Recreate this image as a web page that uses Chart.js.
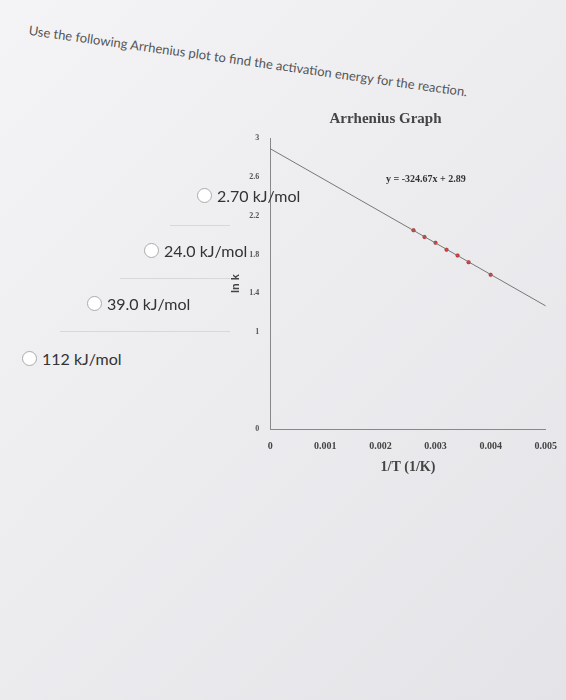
<!DOCTYPE html>
<html><head><meta charset="utf-8">
<script src="https://cdn.jsdelivr.net/npm/chart.js@4"></script>
<style>
body{margin:0;width:566px;height:700px;background:linear-gradient(135deg,#f4f4f6,#e4e4e8);font-family:Lato,"Open Sans",sans-serif;position:relative;overflow:hidden}
#q{position:absolute;left:30px;top:22px;font-size:13px;color:#555;transform:rotate(8deg);transform-origin:left top;white-space:nowrap}
#wrap{position:absolute;left:225px;top:100px;width:335px;height:380px}
.opt{position:absolute;font-size:16px;color:#333;white-space:nowrap}
.opt:before{content:"";display:inline-block;width:13px;height:13px;border:1px solid #aaa;border-radius:50%;margin-right:5px;vertical-align:-1px;background:#fff}
.sep{position:absolute;height:1px;background:#d8d8dc}
</style></head><body>
<div id="q">Use the following Arrhenius plot to find the activation energy for the reaction.</div>
<div id="wrap"><canvas id="c"></canvas></div>
<div class="opt" style="left:197px;top:186px">2.70 kJ/mol</div>
<div class="sep" style="left:170px;top:225px;width:60px"></div>
<div class="opt" style="left:144px;top:241px">24.0 kJ/mol</div>
<div class="sep" style="left:120px;top:278px;width:110px"></div>
<div class="opt" style="left:87px;top:294px">39.0 kJ/mol</div>
<div class="sep" style="left:60px;top:331px;width:170px"></div>
<div class="opt" style="left:22px;top:349px">112 kJ/mol</div>
<script>
const xTicks=[0,0.001,0.002,0.003,0.004,0.005];
const yTicks=[0,1,1.4,1.8,2.2,2.6,3];
const slope=-324.67, intercept=2.89;
const lineX=[0,0.005];
const lineY=[2.89,1.27];
const ptX=[0.0026,0.0028,0.003,0.0032,0.0034,0.0036,0.004];
const ptY=[2.05,1.98,1.92,1.85,1.79,1.72,1.59];
new Chart(document.getElementById('c'),{
 type:'scatter',
 data:{datasets:[
  {type:'line',data:lineX.map((x,i)=>({x,y:lineY[i]})),borderColor:'#777',borderWidth:1,pointRadius:0},
  {data:ptX.map((x,i)=>({x,y:ptY[i]})),backgroundColor:'#d33',pointRadius:2}
 ]},
 options:{responsive:true,maintainAspectRatio:false,animation:false,
  layout:{padding:{left:0,right:14,top:0,bottom:0}},
  plugins:{legend:{display:false},
   title:{display:true,text:'Arrhenius Graph',font:{family:'Liberation Serif',size:15,weight:'bold'},color:'#444'}},
  scales:{
   x:{type:'linear',min:0,max:0.005,afterBuildTicks:a=>{a.ticks=xTicks.map(v=>({value:v}))},
      grid:{display:false},border:{color:'#888'},
      ticks:{font:{family:'Liberation Serif',size:10,weight:'bold'},color:'#444',maxRotation:0,callback:v=>String(v)},
      title:{display:true,text:'1/T (1/K)',font:{family:'Liberation Serif',size:14,weight:'bold'},color:'#444'}},
   y:{type:'linear',min:0,max:3,afterBuildTicks:a=>{a.ticks=yTicks.map(v=>({value:v}))},
      grid:{display:false},border:{color:'#888'},
      ticks:{font:{family:'Liberation Serif',size:8,weight:'bold'},color:'#555',callback:v=>String(v)},
      title:{display:true,text:'ln k',font:{family:'Liberation Sans',size:11,weight:'bold'},color:'#444'}}
  }},
 plugins:[{id:'eq',afterDatasetsDraw(ch){const c=ch.ctx;const xs=ch.scales.x,ys=ch.scales.y;
   c.save();c.font='bold 10px "Liberation Serif"';c.fillStyle='#333';
   c.fillText('y = '+slope+'x + '+intercept,xs.getPixelForValue(0.0021),ys.getPixelForValue(2.55));c.restore();}}]
});
</script></body></html>
